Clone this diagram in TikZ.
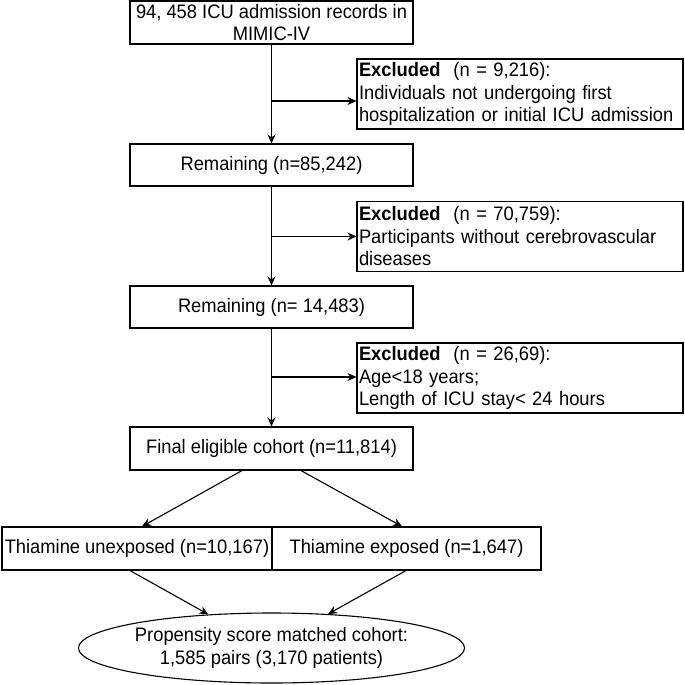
\documentclass[tikz,border=0pt]{standalone}
\usepackage{fontspec}
\setmainfont[FakeStretch=0.94]{Liberation Sans}
\usetikzlibrary{arrows.meta,shapes.geometric}
\begin{document}
\begin{tikzpicture}[x=1pt,y=-1pt,line width=1.1pt,
every node/.style={font=\fontsize{19.5}{22.5}\selectfont, inner sep=1pt},
box/.style={draw, minimum width=283pt, minimum height=43pt, align=center},
excl/.style={draw, minimum width=326pt, minimum height=70pt, text width=322pt, align=left},
arr/.style={-{Stealth[length=9pt,width=8pt]}},
%pairs/.style={minimum width=270pt},
]
\useasboundingbox (0,0) rectangle (685,685);
\node[box] (start) at (271.5,22.5) {94, 458 ICU admission records in\\MIMIC-IV};
\node[excl] (ex1) at (520,94) {\textbf{Excluded}~ (n = 9,216):\\Individuals not undergoing first\\hospitalization or initial ICU admission};
\node[box,minimum height=42pt] (rem1) at (271.5,165) {Remaining (n=85,242)};
\node[excl] (ex2) at (520,236.5) {\textbf{Excluded}~ (n = 70,759):\\Participants without cerebrovascular\\diseases};
\node[box,minimum height=42pt] (rem2) at (271.5,307) {Remaining (n= 14,483)};
\node[excl] (ex3) at (520,378) {\textbf{Excluded}~ (n = 26,69):\\Age<18 years;\\Length of ICU stay< 24 hours};
\node[box] (final) at (271.5,448.5) {Final eligible cohort (n=11,814)};
\node[box,minimum width=270pt] (unexp) at (137,548.5) {Thiamine unexposed (n=10,167)};
\node[box,minimum width=269pt] (exp) at (406.5,548.5) {Thiamine exposed (n=1,647)};
\node[ellipse,draw,minimum width=341pt,minimum height=70pt,inner sep=0pt,align=center] (psm) at (271.5,648) {Propensity score matched cohort:\\1,585 pairs (3,170 patients)};
% main line
\draw[arr] (start) -- (rem1);
\draw[arr] (rem1) -- (rem2);
\draw[arr] (rem2) -- (final);
% exclusions
\coordinate (b1) at (271.5,101);
\coordinate (b2) at (271.5,236.5);
\coordinate (b3) at (271.5,377);
\draw[arr] (b1) -- (b1 -| ex1.west);
\draw[arr] (b2) -- (b2 -| ex2.west);
\draw[arr] (b3) -- (b3 -| ex3.west);
% groups
\draw[arr] ([xshift=-29.5pt]final.south) -- ([xshift=5pt]unexp.north);
\draw[arr] ([xshift=29.5pt]final.south) -- ([xshift=-4.5pt]exp.north);
\draw[arr] ([xshift=-7pt]unexp.south) -- (psm.152);
\draw[arr] ([xshift=-0.5pt]exp.south) -- (psm.31);
\end{tikzpicture}
\end{document}
